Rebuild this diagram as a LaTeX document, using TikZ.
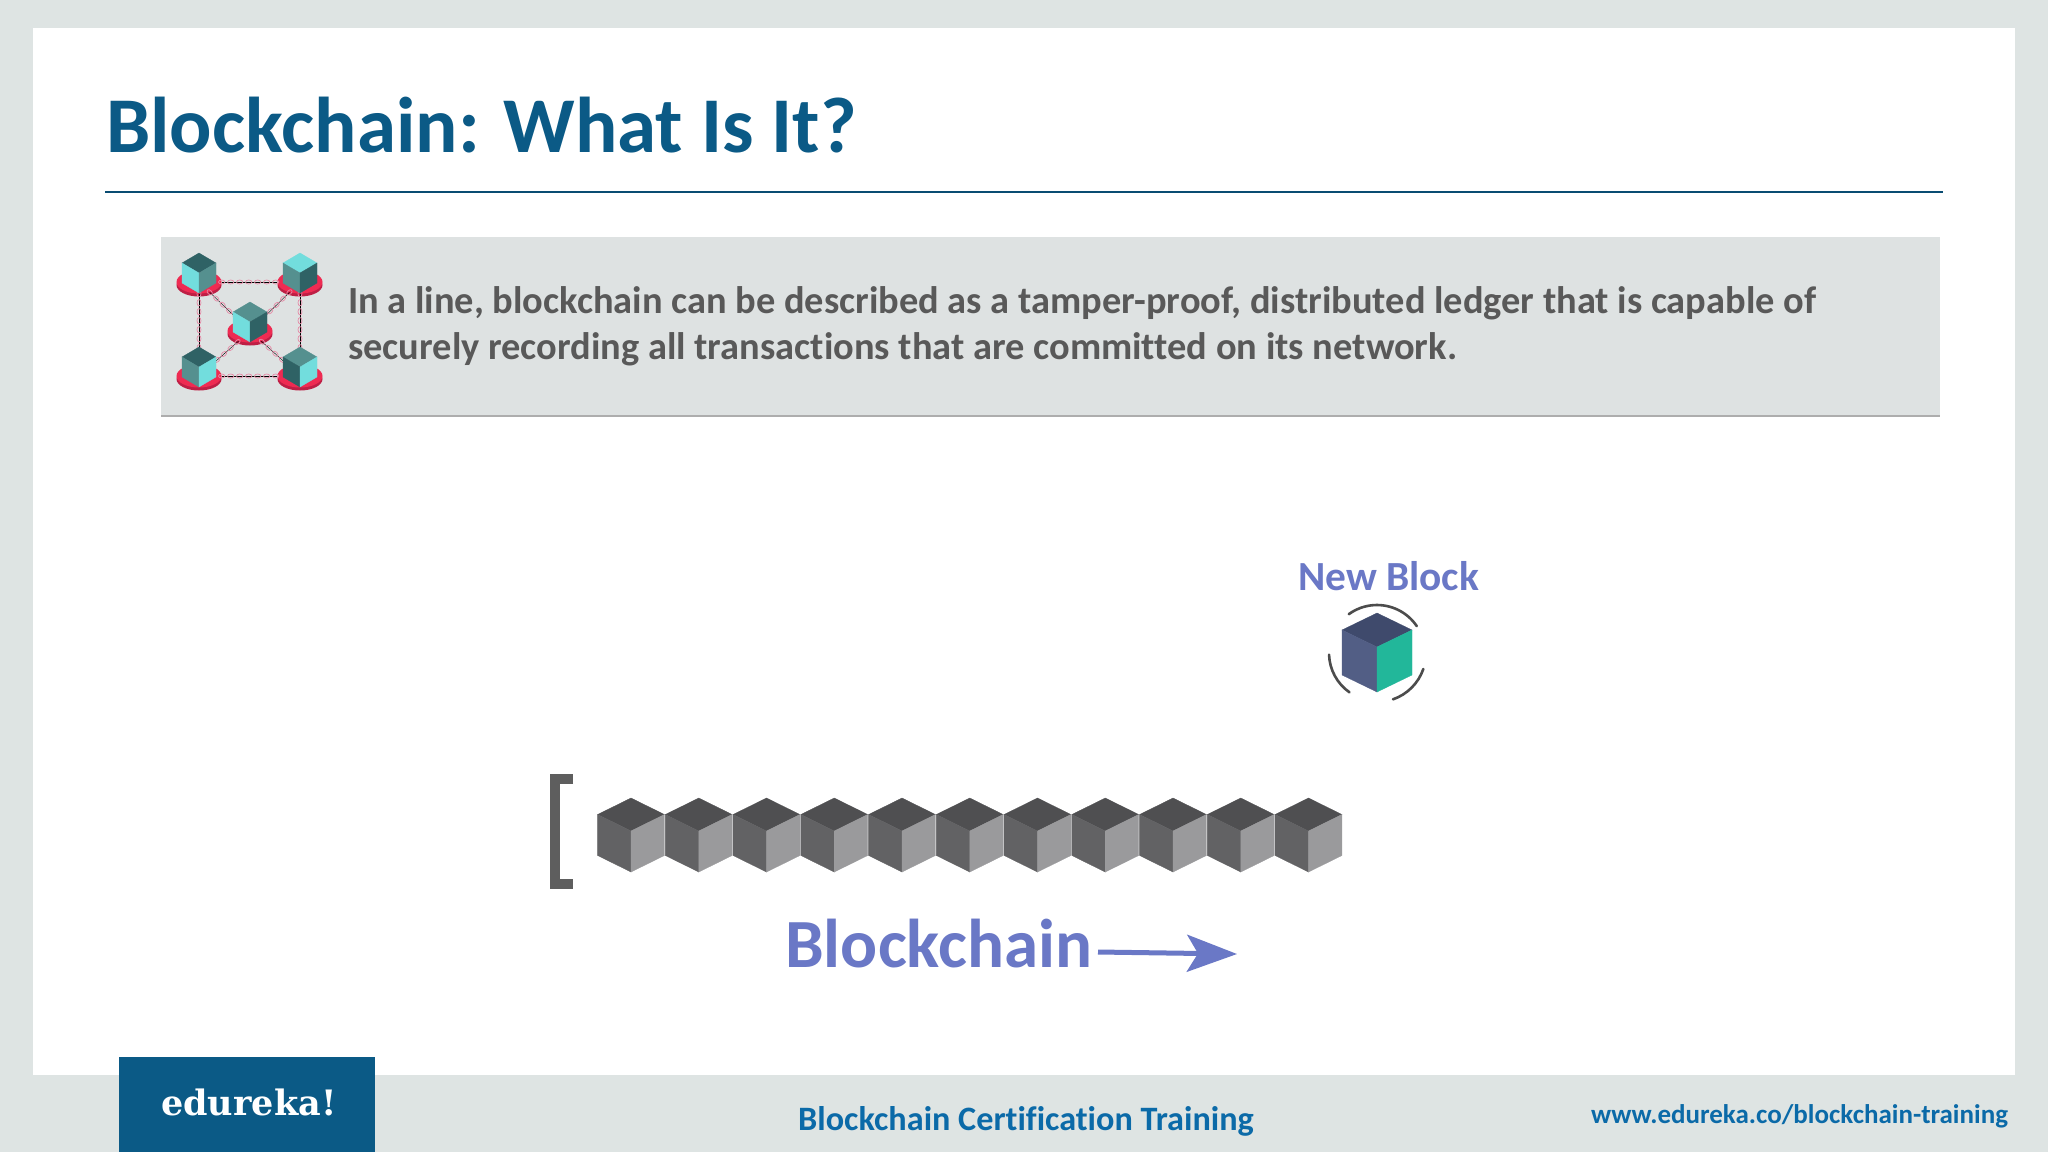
\documentclass[tikz,border=0pt]{standalone}
\usepackage{fontspec}
\setmainfont{Carlito}[Ligatures=NoCommon]
\newfontfamily\slabfont{DejaVu Serif}
\usetikzlibrary{positioning,arrows.meta,shapes.geometric,decorations.markings}
\definecolor{slidegrey}{HTML}{DEE4E3}
\definecolor{boxgrey}{HTML}{DEE2E2}
\definecolor{eduteal}{HTML}{0B5A86}
\definecolor{linkblue}{HTML}{0B6AA8}
\definecolor{bodygrey}{HTML}{595959}
\definecolor{violetblue}{HTML}{6A78C6}
\definecolor{cubedark}{HTML}{2F6265}
\definecolor{cubecyan}{HTML}{72DDDD}
\definecolor{cubemid}{HTML}{55908F}
\definecolor{discred}{HTML}{EE2B52}
\definecolor{discshade}{HTML}{BE1F45}
\definecolor{chainpink}{HTML}{E58AA6}
% position, half width, top depth, side height, top, left, right
\newcommand{\blockcube}[7]{
  \begin{scope}[shift={#1}]
    \fill[#5,draw=#5,line width=.3pt] (0,-2*#3) -- (#2,-#3) -- (0,0) -- (-#2,-#3) -- cycle;
    \fill[#6,draw=#6,line width=.3pt] (-#2,-#3) -- (0,0) -- (0,#4) -- (-#2,#4-#3) -- cycle;
    \fill[#7,draw=#7,line width=.3pt] (#2,-#3) -- (0,0) -- (0,#4) -- (#2,#4-#3) -- cycle;
  \end{scope}
}
\begin{document}
\begin{tikzpicture}[x=1pt,y=-1pt,
    txt/.style={inner sep=0pt,anchor=base west},
    disc/.style={ellipse,fill=discred,minimum width=45pt,minimum height=23pt,inner sep=0pt},
    discbase/.style={ellipse,fill=discshade,minimum width=45pt,minimum height=23pt,inner sep=0pt},
    chain/.style={decoration={markings,mark=between positions 0 and 1 step 9pt with {\draw[chainpink,line width=.7pt] (0,0) ellipse (3.2pt and 2pt);}},postaction={decorate}},
    ring/.style={draw=black!70,line width=2.6pt,line cap=round}]
  \useasboundingbox (0,0) rectangle (2048,1152);
  \fill[slidegrey] (0,0) rectangle (2048,1152);
  \fill[white] (33,28) rectangle (2015,1075);

  \node[txt,text=eduteal,font=\bfseries\fontsize{79}{79}\selectfont] (title) at (106,152) {Blockchain: What Is It?};
  \draw[color=eduteal!85!black,line width=1.6pt] (105,192) -- (1943,192);

  \fill[black!32] (161,240) rectangle (1940,417);
  \fill[boxgrey] (161,237) rectangle (1940,415);
  \node[txt,text=bodygrey,font=\bfseries\fontsize{38.4}{38.4}\selectfont] (line1) at (348,313) {In a line, blockchain can be described as a tamper-proof, distributed ledger that is capable of};
  \node[txt,text=bodygrey,font=\bfseries\fontsize{38.4}{38.4}\selectfont] (line2) at (348,359) {securely recording all transactions that are committed on its network.};

  % network icon
  \node[discbase] (b1) at (199,285) {};
  \node[discbase] (b2) at (300,285) {};
  \node[discbase] (b3) at (250,334) {};
  \node[discbase] (b4) at (199,379) {};
  \node[discbase] (b5) at (300,379) {};
  \node[disc] (d1) at (199,282) {};
  \node[disc] (d2) at (300,282) {};
  \node[disc] (d3) at (250,331) {};
  \node[disc] (d4) at (199,376) {};
  \node[disc] (d5) at (300,376) {};
  \draw[chain] (d1) -- (d2);
  \draw[chain] (d4) -- (d5);
  \draw[chain] (d1) -- (d4);
  \draw[chain] (d2) -- (d5);
  \draw[chain] (d1) -- (d3);
  \draw[chain] (d2) -- (d3);
  \draw[chain] (d4) -- (d3);
  \draw[chain] (d5) -- (d3);
  \blockcube{(199,273)}{17}{10}{20}{cubedark}{cubecyan}{cubemid}
  \blockcube{(300,273)}{17}{10}{20}{cubecyan}{cubemid}{cubedark}
  \blockcube{(250,322)}{17}{10}{20}{cubemid}{cubecyan}{cubedark}
  \blockcube{(199,367)}{17}{10}{20}{cubedark}{cubemid}{cubecyan}
  \blockcube{(300,367)}{17}{10}{20}{cubemid}{cubedark}{cubecyan}

  % new block
  \node[txt,text=violetblue,font=\bfseries\fontsize{41.4}{41.4}\selectfont] (newblock) at (1298,590) {New Block};
  \definecolor{newtop}{HTML}{3F4A6C}
  \definecolor{newleft}{HTML}{525E85}
  \definecolor{newright}{HTML}{22B79A}
  \blockcube{(1377,647)}{35}{17}{45}{newtop}{newleft}{newright}
  \coordinate (ringc) at (1377,653);
  \draw[ring,shift={(ringc)}] (34:48pt) arc[start angle=34,end angle=126,radius=48pt];
  \draw[ring,shift={(ringc)}] (182:48pt) arc[start angle=182,end angle=235,radius=48pt];
  \draw[ring,shift={(ringc)}] (-71:49pt) arc[start angle=-71,end angle=-19,radius=49pt];

  % chain of blocks
  \draw[color=black!63,line width=10.5pt,line cap=butt,line join=miter] (573,779) -- (555,779) -- (555,884) -- (573,884);
  \definecolor{greytop}{HTML}{4F4F51}
  \definecolor{greyleft}{HTML}{626264}
  \definecolor{greyright}{HTML}{9A9A9C}
  \foreach \i in {0,...,10}{
    \pgfmathsetmacro{\cx}{631+67.75*\i}
    \blockcube{(\cx,831)}{33.4}{16.5}{41}{greytop}{greyleft}{greyright}
  }

  \node[txt,text=violetblue,font=\bfseries\fontsize{69}{69}\selectfont] (chainlabel) at (785,967) {Blockchain};
  \coordinate (arrowtail) at (1098,952);
  \coordinate (arrowtip) at (1237,954);
  \draw[violetblue,line width=5pt,-{Stealth[length=50pt,width=37pt,inset=11pt]}] (arrowtail) -- (arrowtip);

  % footer
  \fill[eduteal] (119,1057) rectangle (375,1152);
  \node[txt,text=white,font=\slabfont\bfseries\fontsize{35}{35}\selectfont] (logo) at (161,1115) {edureka!};
  \node[txt,text=linkblue,font=\bfseries\fontsize{34.2}{34.2}\selectfont] (course) at (798,1130) {Blockchain Certification Training};
  \node[txt,text=linkblue,font=\bfseries\fontsize{27}{27}\selectfont] (url) at (1591,1123) {www.edureka.co/blockchain-training};
\end{tikzpicture}
\end{document}
